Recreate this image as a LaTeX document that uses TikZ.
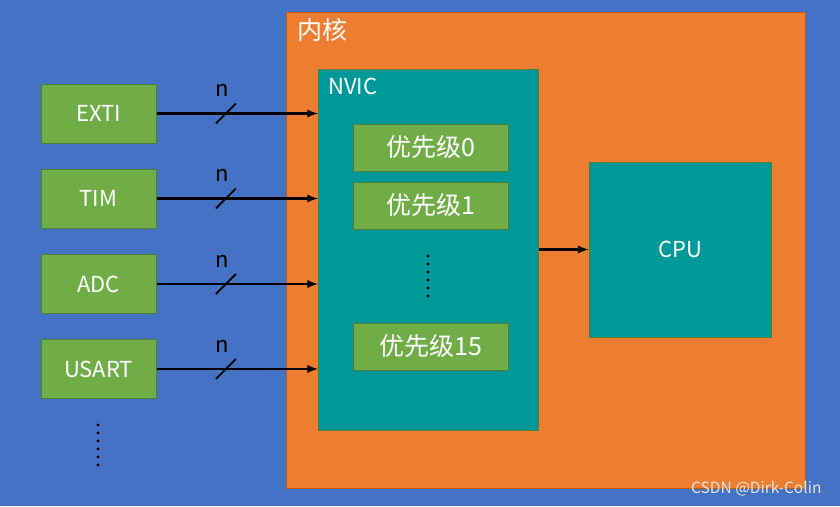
\documentclass[tikz,border=0pt]{standalone}
\usepackage{fontspec}
\setmainfont{Noto Sans CJK SC}
\usetikzlibrary{arrows, positioning}
\definecolor{bgblue}{HTML}{4472C4}
\definecolor{coreorange}{HTML}{ED7D31}
\definecolor{coreedge}{HTML}{C55A11}
\definecolor{nvicteal}{HTML}{009999}
\definecolor{blockgreen}{HTML}{70AD47}
\definecolor{greenedge}{HTML}{507E32}
\tikzstyle{core} = [rectangle, fill=coreorange, draw=coreedge, line width=1pt, anchor=north west, inner sep=0pt]
\tikzstyle{unit} = [rectangle, fill=nvicteal, draw=greenedge, line width=1pt, text=white, inner sep=0pt, font=\fontsize{22}{26}\selectfont]
\tikzstyle{periph} = [rectangle, fill=blockgreen, draw=greenedge, line width=1pt, minimum width=115, minimum height=59, text=white, font=\fontsize{22}{26}\selectfont]
\tikzstyle{prio} = [rectangle, fill=blockgreen, draw=greenedge, line width=1pt, minimum width=155, minimum height=47, text=white, font=\fontsize{25}{28}\selectfont]
\tikzstyle{lbl} = [text=white, inner sep=0pt, font=\fontsize{22}{26}\selectfont]
\tikzstyle{arrow} = [line width=2.6pt, ->, >=latex]

\begin{document}
\begin{tikzpicture}[x=1pt, y=-1pt]

\fill[bgblue] (0,0) rectangle (840,506);
\useasboundingbox (0,0) rectangle (840,506);

\node (core) [core, minimum width=519, minimum height=476] at (286,12) {};
\node (corelbl) [lbl, font=\fontsize{25}{28}\selectfont, below right=6pt and 11pt of core.north west, anchor=north west] {内核};

\node (nvic) [unit, anchor=north west, minimum width=220, minimum height=361] at (318,69) {};
\node (nviclbl) [lbl, below right=9pt and 10pt of nvic.north west, anchor=north west] {NVIC};

\node (p0) [prio] at (430.5,147.5) {优先级0};
\node (p1) [prio] at (430.5,205.5) {优先级1};
\node (p15) [prio] at (430.5,346.5) {优先级15};

\node (cpu) [unit, minimum width=182, minimum height=175] at (680,249.5) {CPU};

\node (exti) [periph] at (98.5,113.5) {EXTI};
\node (tim) [periph] at (98.5,198.5) {TIM};
\node (adc) [periph] at (98.5,284) {ADC};
\node (usart) [periph] at (98.5,369) {USART};

% n-bit buses into the NVIC
\foreach \src in {exti,tim,adc,usart}{
  \draw [arrow] (\src.east) -- coordinate[pos=0.43] (\src-bus) (\src.east -| nvic.west);
  \draw [line width=1.8pt] ([shift={(-10,10)}]\src-bus) -- ([shift={(10,-10)}]\src-bus);
  \node (\src-n) [font=\fontsize{22}{26}\selectfont, inner sep=0pt] at ([shift={(-4,-23)}]\src-bus) {n};
}

\draw [arrow] (nvic.east |- cpu.west) -- (cpu.west);

% more entries
\foreach \k in {0,...,5}{
  \fill (98,425+8*\k) circle (1.6);
  \fill (428,256+8*\k) circle (1.6);
}

\node (mark) [anchor=east, text=white!80!gray, font=\fontsize{15.5}{18}\selectfont] at (825,489) {CSDN @Dirk-Colin};

\end{tikzpicture}
\end{document}
